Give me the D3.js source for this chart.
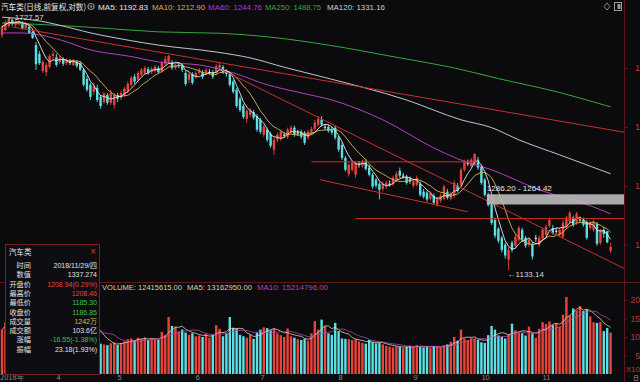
<!DOCTYPE html>
<html><head><meta charset="utf-8">
<script src="https://cdn.jsdelivr.net/npm/d3@7"></script>
<style>html,body{margin:0;padding:0;background:#0b0b0e;overflow:hidden}</style>
</head><body>
<svg id="c" width="640" height="382"></svg>
<script>
// ---------------- DATA ----------------
const opens = [1679,1693,1705,1722,1708,1711,1713,1699,1702,1688, 1651,1627,1581,1578,1592,1621,1618,1605,1613,1602, 1605,1597,1605,1602,1584,1560,1545,1527,1537,1514, 1501,1519,1499,1494,1519,1511,1519,1529,1545,1566, 1558,1571,1576,1586,1578,1581,1589,1581,1600,1605, 1605,1589,1597,1594,1576,1558,1573,1566,1576,1578, 1576,1578,1578,1576,1589,1592,1581,1573,1553,1532, 1509,1491,1459,1469,1476,1466,1457,1421,1433,1423, 1386,1409,1411,1421,1416,1428,1438,1426,1428,1426, 1414,1426,1435,1445,1457,1440,1440,1435,1438,1414, 1397,1367,1331,1340,1329,1354,1349,1358,1345,1329, 1318,1309,1298,1303,1309,1309,1318,1338,1327,1325, 1320,1305,1307,1309,1292,1290,1277,1283,1264,1273, 1277,1292,1277,1283,1305,1307,1340,1356,1349,1354, 1363,1347,1318,1285,1264,1232,1214,1196,1182,1153, 1186,1180,1192,1212,1196,1182,1184,1196,1182,1194, 1202,1220,1216,1210,1202,1198,1218,1228,1237,1226, 1233,1232,1228,1216,1212,1224,1186,1212,1208.94,1170];
const highs = [1708,1722,1727.57,1725,1725,1720,1718,1714,1708,1693, 1660,1635,1610,1602,1627,1635,1627,1621,1618,1615, 1613,1613,1610,1607,1589,1568,1550,1550,1545,1519, 1527,1524,1532,1524,1524,1529,1540,1553,1568,1573, 1581,1589,1594,1592,1592,1597,1594,1607,1621,1624, 1610,1602,1605,1600,1581,1578,1578,1581,1589,1584, 1589,1586,1584,1600,1605,1597,1586,1578,1558,1537, 1514,1496,1484,1486,1481,1471,1462,1445,1438,1428, 1414,1426,1433,1428,1438,1443,1443,1433,1433,1430, 1433,1440,1457,1466,1466,1447,1445,1440,1443,1418, 1402,1372,1356,1360,1360,1360,1363,1365,1351,1333, 1322,1314,1314,1316,1316,1327,1336,1345,1333,1329, 1325,1318,1327,1314,1298,1294,1292,1288,1281,1288, 1307,1298,1292,1316,1311,1345,1363,1363,1367,1378, 1369,1351,1322,1290,1268,1237,1218,1200,1186,1178, 1190,1204,1220,1216,1200,1196,1188,1202,1200,1216, 1222,1237,1222,1216,1216,1232,1241,1251,1241,1249, 1239,1237,1232,1230,1233,1228,1214,1218,1210,1186];
const lows = [1671,1690,1699,1705,1702,1705,1694,1694,1682,1668, 1584,1597,1576,1568,1588,1610,1592,1599,1594,1597, 1597,1594,1589,1581,1540,1527,1506,1519,1501,1484, 1496,1494,1494,1484,1501,1506,1514,1524,1540,1547, 1553,1566,1571,1571,1573,1576,1573,1576,1594,1600, 1584,1584,1589,1578,1542,1550,1545,1560,1571,1560, 1571,1571,1560,1571,1584,1573,1566,1540,1522,1486, 1476,1459,1450,1464,1457,1428,1423,1416,1404,1390, 1374,1404,1406,1414,1411,1423,1416,1418,1411,1397, 1409,1421,1430,1440,1440,1433,1426,1421,1409,1381, 1362,1336,1325,1336,1322,1345,1345,1338,1325,1298, 1300,1275,1292,1298,1303,1305,1314,1322,1320,1307, 1309,1300,1303,1281,1277,1270,1273,1264,1260,1268, 1273,1275,1273,1279,1290,1303,1336,1349,1345,1349, 1340,1307,1281,1260,1222,1195,1185,1167,1155,1133.14, 1167,1176,1188,1188,1176,1178,1153,1188,1178,1190, 1198,1216,1202,1204,1198,1194,1214,1224,1218,1222, 1228,1218,1192,1212,1208,1180,1182,1196,1185.3,1166];
const closes = [1702,1716,1725,1711,1719,1716,1699,1711,1685,1671, 1599,1602,1605,1597,1621,1627,1597,1615,1600,1610, 1605,1607,1594,1584,1545,1532,1514,1542,1506,1491, 1522,1499,1524,1519,1509,1524,1535,1547,1563,1553, 1576,1584,1589,1576,1586,1592,1578,1602,1613,1621, 1589,1597,1597,1584,1547,1573,1550,1576,1584,1566, 1584,1578,1566,1594,1597,1578,1573,1545,1527,1491, 1481,1464,1479,1481,1462,1433,1428,1440,1409,1395, 1409,1421,1428,1421,1433,1438,1421,1426,1416,1402, 1428,1435,1450,1459,1445,1440,1430,1426,1414,1386, 1367,1340,1351,1356,1356,1354,1358,1342,1329,1303, 1305,1296,1309,1311,1309,1322,1331,1327,1327,1311, 1314,1314,1322,1285,1281,1275,1288,1268,1277,1283, 1303,1279,1288,1311,1294,1340,1358,1356,1363,1376, 1345,1311,1285,1264,1226,1200,1190,1172,1161,1172, 1172,1198,1216,1192,1180,1192,1159,1196,1196,1212, 1218,1232,1206,1210,1212,1226,1237,1247,1222,1245, 1233,1222,1196,1226,1228,1184,1212,1203.4,1186.85,1178];
// volume in millions (axis unit X10^6)
const volumes = [12.0,14.0,13.5,12.8,11.6,10.9,11.8,10.5,12.4,13.0, 16.5,13.2,12.0,11.4,12.6,10.8,10.2,11.0,9.8,9.6, 10.4,9.2,9.8,11.2,14.8,13.6,12.8,11.5,12.2,8.2, 8.0,7.8,8.3,8.6,7.9,8.4,8.8,9.4,9.6,9.0, 9.8,9.5,9.9,9.2,9.6,9.4,9.3,11.4,10.5,15.4, 13.0,12.8,11.5,12.0,11.2,10.6,11.0,10.2,10.4,10.0, 10.8,9.8,10.5,13.2,12.2,10.2,11.0,15.4,12.5,12.3, 10.6,10.2,9.8,10.6,9.5,11.2,12.0,12.6,12.4,11.8, 12.3,11.0,10.5,10.0,12.3,10.2,9.8,9.4,9.2,9.5, 9.0,11.0,14.3,12.0,14.7,13.0,11.0,10.6,13.8,11.6, 9.6,9.5,9.4,9.2,9.4,8.8,8.4,8.2,9.2,8.6, 8.3,8.4,8.0,7.6,7.4,7.2,7.5,7.3,7.0,7.4, 7.6,7.3,7.8,7.4,7.2,7.5,7.1,7.6,7.3,7.2, 7.8,8.0,8.7,10.0,9.0,12.0,9.6,9.2,9.7,9.6, 9.2,8.6,8.4,10.5,13.0,12.0,10.4,10.0,9.6,10.8, 13.6,11.8,11.2,11.0,10.4,12.8,11.0,9.8,12.2,14.0, 13.5,14.2,13.2,13.6,12.8,16.0,20.8,15.8,17.7,17.2, 18.4,17.0,17.4,15.6,14.0,13.8,14.0,11.6,12.42,11.2];
// long moving averages: [day index, value]
const ma60 = [[0,1685],[5,1685],[19,1660],[24,1643],[39,1618],[46,1605],[58,1597],[68,1576],[78,1545],[88,1524],[97,1506],[112,1457],[127,1390],[134,1365],[144,1340],[158,1296],[173,1262],[179,1244.76]];
const ma120 = [[0,1730],[9,1722],[29,1679],[46,1651],[63,1632],[73,1616],[83,1591],[94,1566],[119,1506],[135,1457],[144,1438],[152,1409],[164,1374],[179,1331.16]];
const ma250 = [[0,1713],[9,1710],[29,1699],[46,1688],[64,1684],[80,1672],[96,1651],[117,1616],[132,1591],[146,1561],[164,1525],[179,1488.75]];
// user-drawn lines: [[day, price],[day, price]]
const trendLines = [
  [[3,1702],[183,1427]],
  [[91,1358],[140,1358]],
  [[93.5,1318],[137,1249]],
  [[64.7,1584],[183,1136]],
  [[104,1235],[183,1235]]
];
const band = {from:142.6, to:183, hi:1286.20, lo:1264.42};
const highMark = {i:2, v:1727.57};
const lowMark = {i:149, v:1133.14};
const priceTicks = [1589, 1440, 1304, 1182];
const volTicks = [5, 10, 15, 20];
const monthIdx = [0, 16, 34, 57, 76, 99, 121, 141, 159];
const monthLabels = ["2018年","4","5","6","7","8","9","10","11"];
const titleTexts = ["MA5: 1192.83","MA10: 1212.90","MA60: 1244.76","MA250: 1488.75","MA120: 1331.16"];
const volTitleTexts = ["VOLUME: 12415615.00","MA5: 13162950.00","MA10: 15214796.00"];
const infoLabels = ["时间","数值","开盘价","最高价","最低价","收盘价","成交量","成交额","涨幅","振幅"];
const infoValues = ["2018/11/29/四","1337.274","1208.94(0.29%)","1208.46","1185.30","1186.85","1242万","103.6亿","-16.55(-1.38%)","23.18(1.93%)"];

// ---------------- DRAW ----------------
const W=640,H=382;
const LAT='"Liberation Sans", Arial, sans-serif';
const CJK='"Noto Sans CJK SC", "Noto Sans", sans-serif';
const RED='#e8443c', CYAN='#5ce0e4', AX='#5e1818';
const svg=d3.select("#c");
svg.append("rect").attr("width",W).attr("height",H).attr("fill","#0b0b0e");

const N=closes.length;
const x=d3.scaleLinear().domain([0,N-1]).range([2,610.6]);
const y=d3.scaleLog().domain([1133.14,1727.57]).range([270,18]);
const yv=d3.scaleLinear().domain([0,20]).range([374,300]);

const defs=svg.append("defs");
defs.append("clipPath").attr("id","cm").append("rect").attr("x",0).attr("y",0).attr("width",624).attr("height",282);
defs.append("clipPath").attr("id","cv").append("rect").attr("x",0).attr("y",283).attr("width",624).attr("height",95);

svg.append("line").attr("x1",624.5).attr("x2",624.5).attr("y1",0).attr("y2",382).attr("stroke",AX);
svg.append("line").attr("x1",0).attr("x2",640).attr("y1",282.5).attr("y2",282.5).attr("stroke",AX);

const colorOf=i=> closes[i]>opens[i]?RED:(closes[i]<opens[i]?CYAN:'#e0e0e0');
const idx=d3.range(N);
const bw=2.4;

// volume bars
const gv=svg.append("g").attr("clip-path","url(#cv)");
gv.selectAll("rect").data(idx).join("rect")
  .attr("x",i=>x(i)-bw/2).attr("width",bw)
  .attr("y",i=>yv(volumes[i])).attr("height",i=>yv(0)-yv(volumes[i]))
  .attr("fill",i=>closes[i]>=opens[i]?RED:CYAN);
function rolling(arr,n){return arr.map((_,i)=>d3.mean(arr.slice(Math.max(0,i-n+1),i+1)));}
const vma5=rolling(volumes,5), vma10=rolling(volumes,10);
const lv=d3.line().x((d,i)=>x(i)).y(d=>yv(d));
gv.append("path").attr("d",lv(vma5)).attr("fill","none").attr("stroke","#d8d0a8").attr("stroke-width",0.8);
gv.append("path").attr("d",lv(vma10)).attr("fill","none").attr("stroke","#b044b0").attr("stroke-width",0.8);

// candles
const gm=svg.append("g").attr("clip-path","url(#cm)");
gm.selectAll("line.w").data(idx).join("line").attr("class","w")
  .attr("x1",i=>x(i)).attr("x2",i=>x(i))
  .attr("y1",i=>y(highs[i])).attr("y2",i=>y(lows[i]))
  .attr("stroke",colorOf).attr("stroke-width",0.9);
gm.selectAll("rect.b").data(idx).join("rect").attr("class","b")
  .attr("x",i=>x(i)-bw/2).attr("width",bw)
  .attr("y",i=>Math.min(y(opens[i]),y(closes[i])))
  .attr("height",i=>Math.max(1,Math.abs(y(opens[i])-y(closes[i]))))
  .attr("fill",colorOf);

// moving averages
const ma5=rolling(closes,5), ma10=rolling(closes,10);
const lp=d3.line().x((d,i)=>x(i)).y(d=>y(d));
const lpair=d3.line().x(d=>x(d[0])).y(d=>y(d[1])).curve(d3.curveMonotoneX);
gm.append("path").attr("d",lpair(ma250)).attr("fill","none").attr("stroke","#34a83c").attr("stroke-width",1);
gm.append("path").attr("d",lpair(ma120)).attr("fill","none").attr("stroke","#c4c4cc").attr("stroke-width",1);
gm.append("path").attr("d",lpair(ma60)).attr("fill","none").attr("stroke","#b83cc0").attr("stroke-width",1);
gm.append("path").attr("d",lp(ma10)).attr("fill","none").attr("stroke","#d8b44c").attr("stroke-width",0.9);
gm.append("path").attr("d",lp(ma5)).attr("fill","none").attr("stroke","#e8e8e8").attr("stroke-width",0.9);

// drawn lines
const ls=d3.line().x(d=>x(d[0])).y(d=>y(d[1]));
trendLines.forEach(t=>gm.append("path").attr("d",ls(t)).attr("fill","none").attr("stroke","#c8302a").attr("stroke-width",1));

// band
gm.append("rect").attr("x",x(band.from)).attr("width",x(band.to)-x(band.from))
  .attr("y",y(band.hi)).attr("height",y(band.lo)-y(band.hi)).attr("fill","#b8b8b8").attr("opacity",0.92);
svg.append("text").attr("x",x(band.from)).attr("y",y(band.hi)-3).text(band.hi.toFixed(2)+" - "+band.lo.toFixed(2))
  .attr("fill","#e8e8e8").attr("font-family",LAT).attr("font-size",8);

// marks
svg.append("text").attr("x",x(highMark.i)-2).attr("y",y(highMark.v)+2).text("←"+highMark.v.toFixed(2))
  .attr("fill","#d8d8d8").attr("font-family",LAT).attr("font-size",8);
svg.append("text").attr("x",x(lowMark.i)-1).attr("y",y(lowMark.v)+7).text("←"+lowMark.v.toFixed(2))
  .attr("fill","#d8d8d8").attr("font-family",LAT).attr("font-size",8);

// axes (price labels run past the window edge, as in the reference)
const ga=svg.append("g").attr("transform","translate(624,0)")
  .call(d3.axisRight(y).tickValues(priceTicks).tickSize(4).tickPadding(7).tickFormat(d3.format(".0f")));
ga.select(".domain").remove();
ga.selectAll("line").attr("stroke",AX);
ga.selectAll("text").attr("fill","#b83a30").attr("font-family",LAT).attr("font-size",9);
const gva=svg.append("g").attr("transform","translate(624,0)")
  .call(d3.axisRight(yv).tickValues(volTicks).tickSize(3).tickPadding(0).tickFormat(d3.format("d")));
gva.select(".domain").remove();
gva.selectAll("line").attr("stroke",AX);
gva.selectAll("text").attr("x",16).attr("text-anchor","end").attr("fill","#b83a30").attr("font-family",LAT).attr("font-size",8.5);
svg.append("text").attr("x",640).attr("y",371.5).attr("text-anchor","end").text("X10")
  .attr("fill","#b83a30").attr("font-family",LAT).attr("font-size",8);

// month labels
svg.selectAll("text.m").data(monthIdx).join("text").attr("class","m")
  .attr("x",(d,k)=>k===0?0:x(d)).attr("y",380).text((d,k)=>monthLabels[k])
  .attr("fill","#8a8a8a").attr("font-family",(d,k)=>k===0?CJK:LAT).attr("font-size",7.5);
svg.append("text").attr("x",633).attr("y",380).text("日").attr("fill","#9a9a9a").attr("font-family",CJK).attr("font-size",6);

// title
svg.append("text").attr("x",1).attr("y",9.5).text("汽车类(日线,前复权,对数)").attr("fill","#e8e8e8")
  .attr("font-family",CJK).attr("font-size",8.5).attr("textLength",85).attr("lengthAdjust","spacingAndGlyphs");
svg.append("circle").attr("cx",91).attr("cy",6.5).attr("r",3).attr("fill","none").attr("stroke","#8a8a8a").attr("stroke-width",1.2);
svg.append("circle").attr("cx",91).attr("cy",6.5).attr("r",1.2).attr("fill","#8a8a8a");
const tx=[98,152,208,265,327], tw=[50,53,54,56,58], tc=["#e8e8e8","#d8b44c","#b83cc0","#34a83c","#d0d0d0"];
titleTexts.forEach((t,k)=>svg.append("text").attr("x",tx[k]).attr("y",9.5).text(t).attr("fill",tc[k])
  .attr("font-family",LAT).attr("font-size",8).attr("textLength",tw[k]).attr("lengthAdjust","spacingAndGlyphs"));
svg.append("path").attr("d","M607,3 L610,6.5 L607,10 L604,6.5 Z").attr("fill","none").attr("stroke","#8a8a8a");
svg.append("rect").attr("x",614.5).attr("y",2.5).attr("width",7).attr("height",8).attr("fill","none").attr("stroke","#9a9a9a");
svg.append("rect").attr("x",617.5).attr("y",4).attr("width",3).attr("height",5).attr("fill","#9a9a9a");

// volume title
const vx=[102,187,257], vw=[80,65,71], vc=["#d8d0a8","#d8d0a8","#b044b0"];
volTitleTexts.forEach((t,k)=>svg.append("text").attr("x",vx[k]).attr("y",289.5).text(t).attr("fill",vc[k])
  .attr("font-family",LAT).attr("font-size",8).attr("textLength",vw[k]).attr("lengthAdjust","spacingAndGlyphs"));

// info box
const ib=svg.append("g");
ib.append("rect").attr("x",5.5).attr("y",244.5).attr("width",94).attr("height",130).attr("fill","#0e0e12").attr("stroke","#7a1e1e");
ib.append("text").attr("x",9).attr("y",255).text("汽车类").attr("fill","#e8e8e8").attr("font-family",CJK).attr("font-size",7.5);
ib.append("text").attr("x",96).attr("y",255).attr("text-anchor","end").text("×").attr("fill","#c84040").attr("font-family",LAT).attr("font-size",10);
const vcol=["#e0e0e0","#e0e0e0","#e0443c","#e0443c","#3cc04c","#3cc04c","#d8b84c","#e0e0e0","#3cc04c","#e0e0e0"];
infoLabels.forEach((l,k)=>{
  const yy=268+k*9.3;
  ib.append("text").attr("x",31).attr("y",yy).attr("text-anchor","end").text(l).attr("fill","#e0e0e0").attr("font-family",CJK).attr("font-size",7.2);
  ib.append("text").attr("x",97).attr("y",yy).attr("text-anchor","end").text(infoValues[k]).attr("fill",vcol[k]).attr("font-family",LAT+","+CJK).attr("font-size",7);
});
</script></body></html>
